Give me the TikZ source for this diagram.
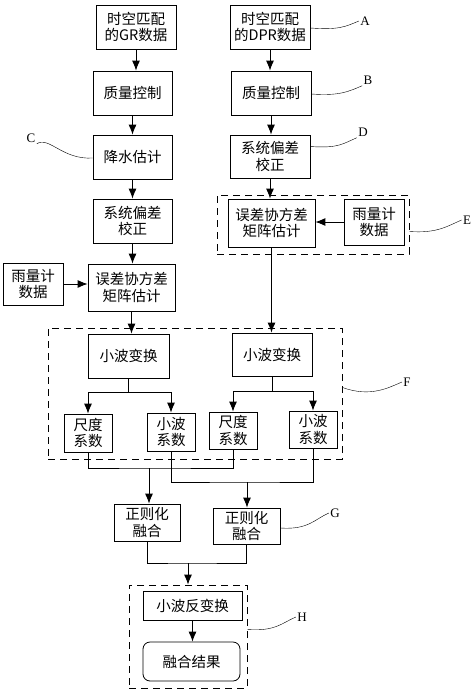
\documentclass[tikz,border=0pt]{standalone}
\usepackage{fontspec}
\setmainfont{Noto Sans CJK SC}
\newfontfamily\latinf{Liberation Serif}
\usetikzlibrary{arrows.meta}

\begin{document}
\begin{tikzpicture}[
  x=1pt, y=-1pt,
  line width=0.9pt,
  box/.style={draw,thick,inner sep=1pt,align=center,
    font=\fontsize{14.5}{16.5}\selectfont},
  grp/.style={draw,thick,dashed,dash pattern=on 7pt off 5pt,inner sep=0pt},
  lbl/.style={inner sep=1pt,font=\latinf\fontsize{13}{13}\selectfont},
  >={Latex[length=10pt,width=8pt]}
]
  \useasboundingbox (0,0) rectangle (474,693);

  % left column (GR)
  \node[box,minimum width=80pt,minimum height=44pt] (gr)   at (136,27)    {时空匹配\\的GR数据};
  \node[box,minimum width=79pt,minimum height=44pt] (qcl)  at (132.5,93)  {质量控制};
  \node[box,minimum width=79pt,minimum height=44pt] (rain) at (132.5,157) {降水估计};
  \node[box,minimum width=79pt,minimum height=44pt] (bcl)  at (132.5,221) {系统偏差\\校正};
  \node[box,minimum width=87pt,minimum height=47pt] (covl) at (131.5,287.5) {误差协方差\\矩阵估计};
  \node[box,minimum width=60pt,minimum height=42pt] (gaul) at (33,284)    {雨量计\\数据};

  % right column (DPR)
  \node[box,minimum width=80pt,minimum height=44pt] (dpr)  at (270,27)    {时空匹配\\的DPR数据};
  \node[box,minimum width=80pt,minimum height=44pt] (qcr)  at (271,93)    {质量控制};
  \node[box,minimum width=80pt,minimum height=43pt] (bcr)  at (270,156.5) {系统偏差\\校正};
  \node[box,minimum width=87pt,minimum height=48pt] (covr) at (271.5,223) {误差协方差\\矩阵估计};
  \node[box,minimum width=60pt,minimum height=46pt] (gaur) at (374,222)   {雨量计\\数据};
  \node[grp,minimum width=192pt,minimum height=59pt] (grpE) at (313,224.5) {};

  % wavelet part
  \node[grp,minimum width=294pt,minimum height=131pt] (grpF) at (195,393.5) {};
  \node[box,minimum width=81pt,minimum height=44pt] (wtl)  at (128.5,356) {小波变换};
  \node[box,minimum width=80pt,minimum height=43pt] (wtr)  at (272,354.5) {小波变换};
  \node[box,minimum width=48pt,minimum height=38pt] (scl1) at (88,433)    {尺度\\系数};
  \node[box,minimum width=48pt,minimum height=38pt] (wcl1) at (171,432)   {小波\\系数};
  \node[box,minimum width=48pt,minimum height=37pt] (scl2) at (233,430.5) {尺度\\系数};
  \node[box,minimum width=48pt,minimum height=37pt] (wcl2) at (313,429.5) {小波\\系数};

  % fusion
  \node[box,minimum width=66pt,minimum height=37pt] (fus1) at (147,522.5) {正则化\\融合};
  \node[box,minimum width=67pt,minimum height=36pt] (fus2) at (246.5,526) {正则化\\融合};
  \node[grp,minimum width=118pt,minimum height=103pt] (grpH) at (188,636.5) {};
  \node[box,minimum width=99pt,minimum height=29pt] (iwt)  at (192.5,605.5) {小波反变换};
  \node[box,rounded corners=7pt,minimum width=97pt,minimum height=39pt] (res) at (191.5,661.5) {融合结果};

  \coordinate (m1) at (149,468);
  \coordinate (m2) at (247,482);
  \coordinate (m3) at (188,563);

  % labels
  \node[lbl] (lA) at (365,21)  {A};
  \node[lbl] (lB) at (368,80)  {B};
  \node[lbl] (lC) at (31,138)  {C};
  \node[lbl] (lD) at (363,132) {D};
  \node[lbl] (lE) at (467,220) {E};
  \node[lbl] (lF) at (407,382) {F};
  \node[lbl] (lG) at (335,513) {G};
  \node[lbl] (lH) at (302,617) {H};

  % flow
  \draw[->] (gr.south) -- (gr.south |- qcl.north);
  \draw[->] (qcl.south) -- (qcl.south |- rain.north);
  \draw[->] (rain.south) -- (rain.south |- bcl.north);
  \draw[->] (bcl.south) -- (bcl.south |- covl.north);
  \draw[->] (gaul.east) -- (gaul.east -| covl.west);
  \draw[->] (covl.south) -- (covl.south |- wtl.north);

  \draw[->] (dpr.south) -- (dpr.south |- qcr.north);
  \draw[->] (qcr.south) -- (qcr.south |- bcr.north);
  \draw[->] (bcr.south) -- (bcr.south |- covr.north);
  \draw[->] (gaur.west) -- (gaur.west -| covr.east);
  \draw[->] (covr.south) -- (covr.south |- wtr.north);

  \draw[->] (wtl.south) -- ++(0,14) -| (scl1.north);
  \draw[->] (wtl.south) ++(0,14) -| (wcl1.north);
  \draw[->] (wtr.south) -- ++(0,15) -| (scl2.north);
  \draw[->] (wtr.south) ++(0,15) -| (wcl2.north);

  \draw (scl1.south) |- (m1) -| (scl2.south);
  \draw[->] (m1) -- (m1 |- fus1.north);
  \draw (wcl1.south) |- (m2) -| (wcl2.south);
  \draw[->] (m2) -- (m2 |- fus2.north);
  \draw (fus1.south) |- (m3) -| (fus2.south);
  \draw[->] (m3) -- (m3 |- grpH.north);
  \draw[->] (iwt.south) -- (iwt.south |- res.north);

  % label leaders
  \draw[thin] (dpr.east) ++(0,1) .. controls +(28,2) and +(-14,6) .. (lA.west);
  \draw[thin] (qcr.east) ++(0,1) .. controls +(28,2) and +(-14,6) .. (lB.south west);
  \draw[thin] (rain.west) ++(0,1) .. controls +(-30,2) and +(12,-8) .. (lC.south east);
  \draw[thin] (bcr.east) ++(0,-10) .. controls +(28,2) and +(-14,6) .. (lD.south west);
  \draw[thin] (grpE.east) ++(0,7) .. controls +(28,2) and +(-14,6) .. (lE.west);
  \draw[thin] (grpF.east) ++(0,-6) .. controls +(28,10) and +(-14,6) .. (lF.west);
  \draw[thin] (fus2.east) ++(0,2) .. controls +(28,2) and +(-14,6) .. (lG.west);
  \draw[thin] (grpH.east) ++(0,-7) .. controls +(28,2) and +(-14,6) .. (lH.west);
\end{tikzpicture}
\end{document}
